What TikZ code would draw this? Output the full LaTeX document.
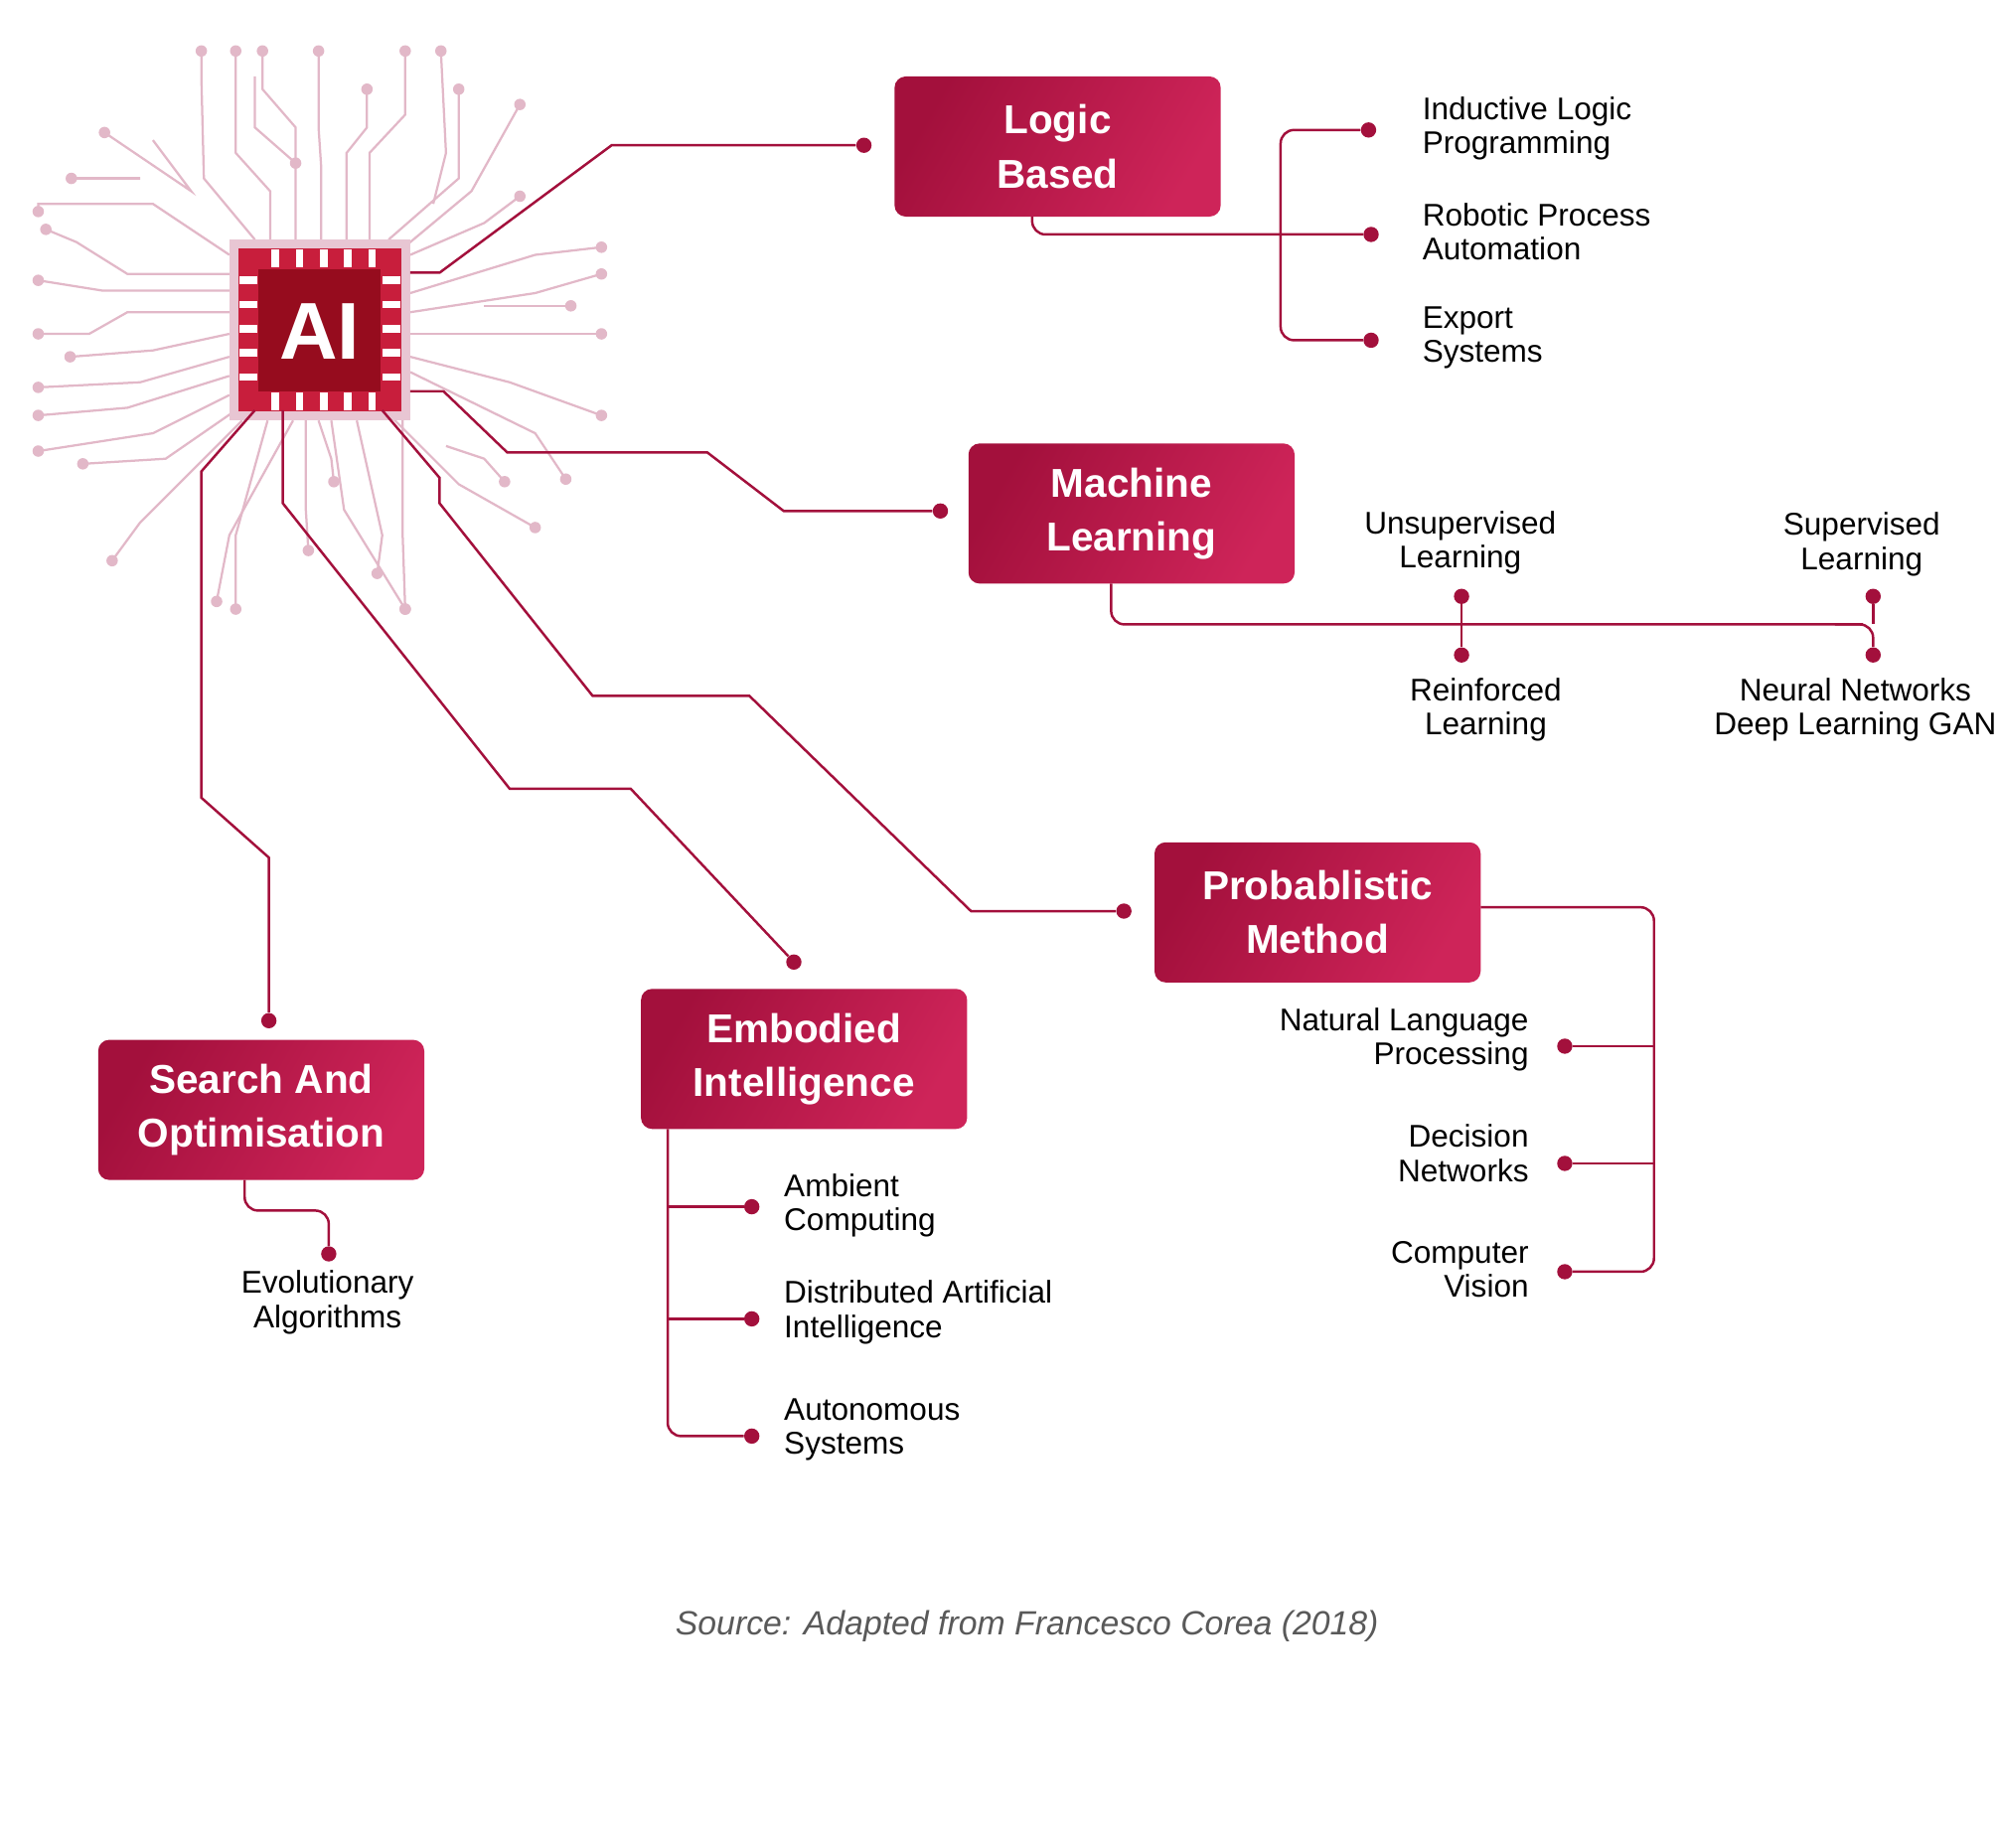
\documentclass[tikz,border=0pt]{standalone}
\usepackage{fontspec}
\setmainfont{Liberation Sans}
\begin{document}
\begin{tikzpicture}[x=0.02cm,y=-0.02cm,
  box/.style={rounded corners=5pt,minimum width=5.12cm,minimum height=2.2cm,align=center,text=white,font=\fontsize{18}{24}\selectfont\bfseries,left color=cA,right color=cB,shading angle=60},
  lab/.style={font=\fontsize{14}{15.3}\selectfont,inner sep=0pt},
  con/.style={draw=cL,line width=1.1pt,rounded corners=6pt},
  dot/.style={circle,fill=cL,inner sep=0pt,minimum size=0.24cm},
  tr/.style={draw=cP,line width=1pt},
  td/.style={fill=cP}]
\definecolor{cA}{HTML}{A3103C}\definecolor{cB}{HTML}{CE2459}
\definecolor{cL}{HTML}{A3103C}\definecolor{cP}{HTML}{E2B8C8}
\definecolor{cR}{HTML}{C81E3C}\definecolor{cD}{HTML}{960C1E}
\useasboundingbox (0,0) rectangle (1568,1450);
% circuit traces
\foreach \p/\e in {
 {(212,188)--(212,150)--(185,120)}/{(185,40)},
 {(232,188)--(232,100)--(206,70)}/{(206,40)},
 {(252,188)--(252,130)--(250,100)}/{(250,40)},
 {(272,188)--(272,120)--(288,100)}/{(288,70)},
 {(290,188)--(290,120)--(318,90)}/{(318,40)},
 {(200,188)--(160,140)--(158,60)}/{(158,40)},
 {(305,188)--(360,140)--(360,100)}/{(360,70)},
 {(316,195)--(370,150)}/{(408,82)},
 {(322,200)--(380,175)}/{(408,154)},
 {(322,230)--(420,200)}/{(472,194)},
 {(322,245)--(420,230)}/{(472,215)},
 {(322,262)--(430,262)}/{(472,262)},
 {(322,280)--(400,300)}/{(472,326)},
 {(322,292)--(420,340)}/{(444,376)},
 {(180,200)--(120,160)--(30,160)}/{(30,166)},
 {(180,215)--(100,215)--(60,190)}/{(36,180)},
 {(180,228)--(80,228)}/{(30,220)},
 {(180,245)--(100,245)--(70,262)}/{(30,262)},
 {(180,262)--(120,275)}/{(55,280)},
 {(180,280)--(110,300)}/{(30,304)},
 {(180,295)--(100,320)}/{(30,326)},
 {(180,310)--(120,340)}/{(30,354)},
 {(185,322)--(130,360)}/{(65,364)},
 {(190,330)--(110,410)}/{(88,440)},
 {(240,330)--(240,400)}/{(242,432)},
 {(260,330)--(270,400)}/{(318,478)},
 {(280,330)--(300,420)}/{(296,450)},
 {(230,330)--(180,420)}/{(170,472)},
 {(300,320)--(360,380)}/{(420,414)},
 {(210,330)--(185,420)}/{(185,478)},
 {(250,330)--(260,360)}/{(262,378)},
 {(316,330)--(316,420)}/{(318,478)},
 {(200,60)--(200,100)}/{(232,128)},
 {(120,110)--(150,150)}/{(82,104)},
 {(340,160)--(350,120)}/{(346,40)},
 {(60,140)--(110,140)}/{(56,140)},
 {(380,240)--(420,240)}/{(448,240)},
 {(350,350)--(380,360)}/{(396,378)}}{
 \draw[tr] \p -- \e; \fill[td] \e circle (4.5);}
% chip
\fill[cP!80] (180,188) rectangle (322,330);
\fill[cR] (187,195) rectangle (315,323);
\fill[cD] (203,211) rectangle (299,307);
\foreach \k in {0,...,4}{
 \fill[white] (213+\k*19,196) rectangle (219+\k*19,210);
 \fill[white] (213+\k*19,308) rectangle (219+\k*19,322);
 \fill[white] (188,217+\k*19) rectangle (202,223+\k*19);
 \fill[white] (300,217+\k*19) rectangle (314,223+\k*19);}
\node[font=\fontsize{36}{36}\selectfont\bfseries,text=white] (chip) at (251,260) {AI};
\coordinate (c1) at (322,214);\coordinate (c2) at (322,307);\coordinate (c3) at (300,322);
\coordinate (c4) at (222,322);\coordinate (c5) at (200,322);
% boxes
\node[box] (lb) at (830,115) {Logic\\Based};
\node[box] (ml) at (888,403) {Machine\\Learning};
\node[box] (pm) at (1034,716) {Probablistic\\Method};
\node[box] (ei) at (631,831) {Embodied\\Intelligence};
\node[box] (so) at (205,871) {Search And\\Optimisation};
% main connectors
\node[dot] (d1) at (678,114) {};\node[dot] (d2) at (738,401) {};\node[dot] (d3) at (882,715) {};
\node[dot] (d4) at (623,755) {};\node[dot] (d5) at (211,801) {};
\draw[con,rounded corners=0pt] (c1) -- (345,214) -- (480,114) -- (d1);
\draw[con,rounded corners=0pt] (c2) -- (348,307) -- (398,355) -- (555,355) -- (615,401) -- (d2);
\draw[con,rounded corners=0pt] (c3) -- (345,375) -- (345,395) -- (465,546) -- (588,546) -- (762,715) -- (d3);
\draw[con,rounded corners=0pt] (c4) -- (222,395) -- (400,619) -- (495,619) -- (d4);
\draw[con,rounded corners=0pt] (c5) -- (158,370) -- (158,626) -- (211,673) -- (d5);
% logic subs
\node[dot] (l1) at (1074,102) {};\node[dot] (l2) at (1076,184) {};\node[dot] (l3) at (1076,267) {};
\draw[con] (810,170) -- (810,184) -- (l2);
\draw[con] (l1) -- (1005,102) -- (1005,267) -- (l3);
\node[lab,align=left,anchor=west] (t1) at (1116,101) {Inductive Logic\\Programming};
\node[lab,align=left,anchor=west] (t2) at (1116,182) {Robotic Process\\Automation};
\node[lab,align=left,anchor=west] (t3) at (1116,265) {Export\\Systems};
% ML subs
\node[dot] (m1) at (1147,468) {};\node[dot] (m2) at (1147,514) {};
\node[dot] (m3) at (1470,468) {};\node[dot] (m4) at (1470,514) {};
\draw[con] (872,458) -- (872,490) -- (1462,490);
\draw[con] (m1) -- (1147,490) -- (m2);
\draw[con] (1440,490) -- (1470,490) -- (m4);
\draw[con] (m3) -- (1470,490);
\node[lab,align=center] at (1146,426) {Unsupervised\\Learning};
\node[lab,align=center] at (1166,557) {Reinforced\\Learning};
\node[lab,align=center] at (1461,427) {Supervised\\Learning};
\node[lab,align=center] at (1456,557) {Neural Networks\\Deep Learning GAN};
% prob subs
\node[dot] (p1) at (1228,821) {};\node[dot] (p2) at (1228,913) {};\node[dot] (p3) at (1228,998) {};
\draw[con] (1162,712) -- (1298,712) -- (1298,998) -- (p3);
\draw[con] (p1) -- (1298,821);\draw[con] (p2) -- (1298,913);
\node[lab,align=right,anchor=east] at (1200,816) {Natural Language\\Processing};
\node[lab,align=right,anchor=east] at (1200,905) {Decision\\Networks};
\node[lab,align=right,anchor=east] at (1200,996) {Computer\\Vision};
% embodied subs
\node[dot] (e1) at (590,947) {};\node[dot] (e2) at (590,1035) {};\node[dot] (e3) at (590,1127) {};
\draw[con] (524,886) -- (524,1127) -- (e3);
\draw[con] (524,947) -- (e1);\draw[con] (524,1035) -- (e2);
\node[lab,align=left,anchor=west] at (615,946) {Ambient\\Computing};
\node[lab,align=left,anchor=west] at (615,1030) {Distributed Artificial\\Intelligence};
\node[lab,align=left,anchor=west] at (615,1122) {Autonomous\\Systems};
% search subs
\node[dot] (s1) at (258,984) {};
\draw[con] (192,926) -- (192,950) -- (258,950) -- (s1);
\node[lab,align=center] at (257,1022) {Evolutionary\\Algorithms};
\node[font=\fontsize{15}{18}\selectfont\itshape,text=black!65] at (806,1276) {Source: Adapted from Francesco Corea (2018)};
\end{tikzpicture}
\end{document}
